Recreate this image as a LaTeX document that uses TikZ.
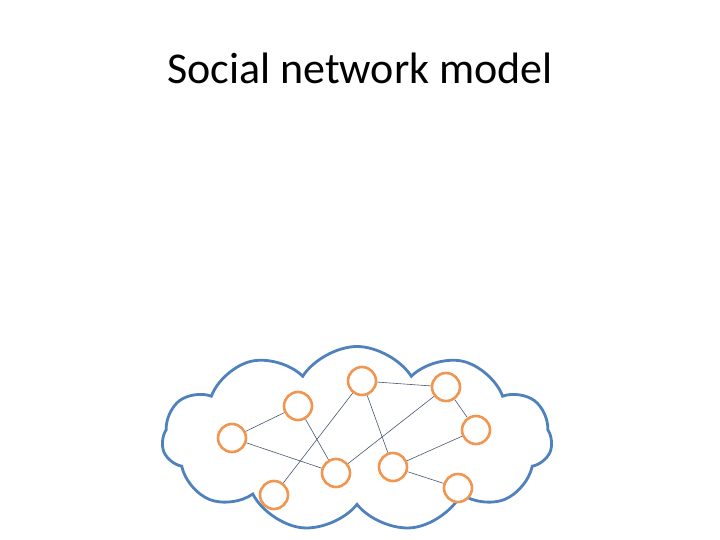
\documentclass[tikz,border=0pt]{standalone}
\usepackage{fontspec}
\setmainfont{Carlito}
\usetikzlibrary{shapes.symbols}
\definecolor{cloudblue}{RGB}{79,129,189}
\definecolor{nodeorange}{RGB}{240,150,80}
\definecolor{linkgray}{RGB}{70,85,110}
\begin{document}
\begin{tikzpicture}[x=1pt,y=-1pt,
  pnode/.style={circle,draw=nodeorange,line width=2.6pt,minimum size=28pt,inner sep=0pt,fill=white},
  link/.style={draw=linkgray,line width=0.6pt}]
\useasboundingbox (0,0) rectangle (720,540);
\node[font=\fontsize{44}{50}\selectfont] (title) at (360,68) {Social network model};
\node[cloud,cloud puffs=11,cloud puff arc=115,aspect=2.1,draw=cloudblue,line width=2.8pt,minimum width=390pt,minimum height=185pt,inner sep=0pt] (cloud) at (357,439) {};
\node[pnode] (A) at (232,438) {};
\node[pnode] (B) at (298,406) {};
\node[pnode] (C) at (362,381) {};
\node[pnode] (D) at (446,387) {};
\node[pnode] (E) at (476,430) {};
\node[pnode] (F) at (336,473) {};
\node[pnode] (G) at (393,467) {};
\node[pnode] (H) at (458,488) {};
\node[pnode] (I) at (274,495) {};
\foreach \a/\b in {A/B,A/F,B/F,C/I,C/G,C/D,D/F,D/E,E/G,G/H}
  \draw[link] (\a) -- (\b);
\end{tikzpicture}
\end{document}
